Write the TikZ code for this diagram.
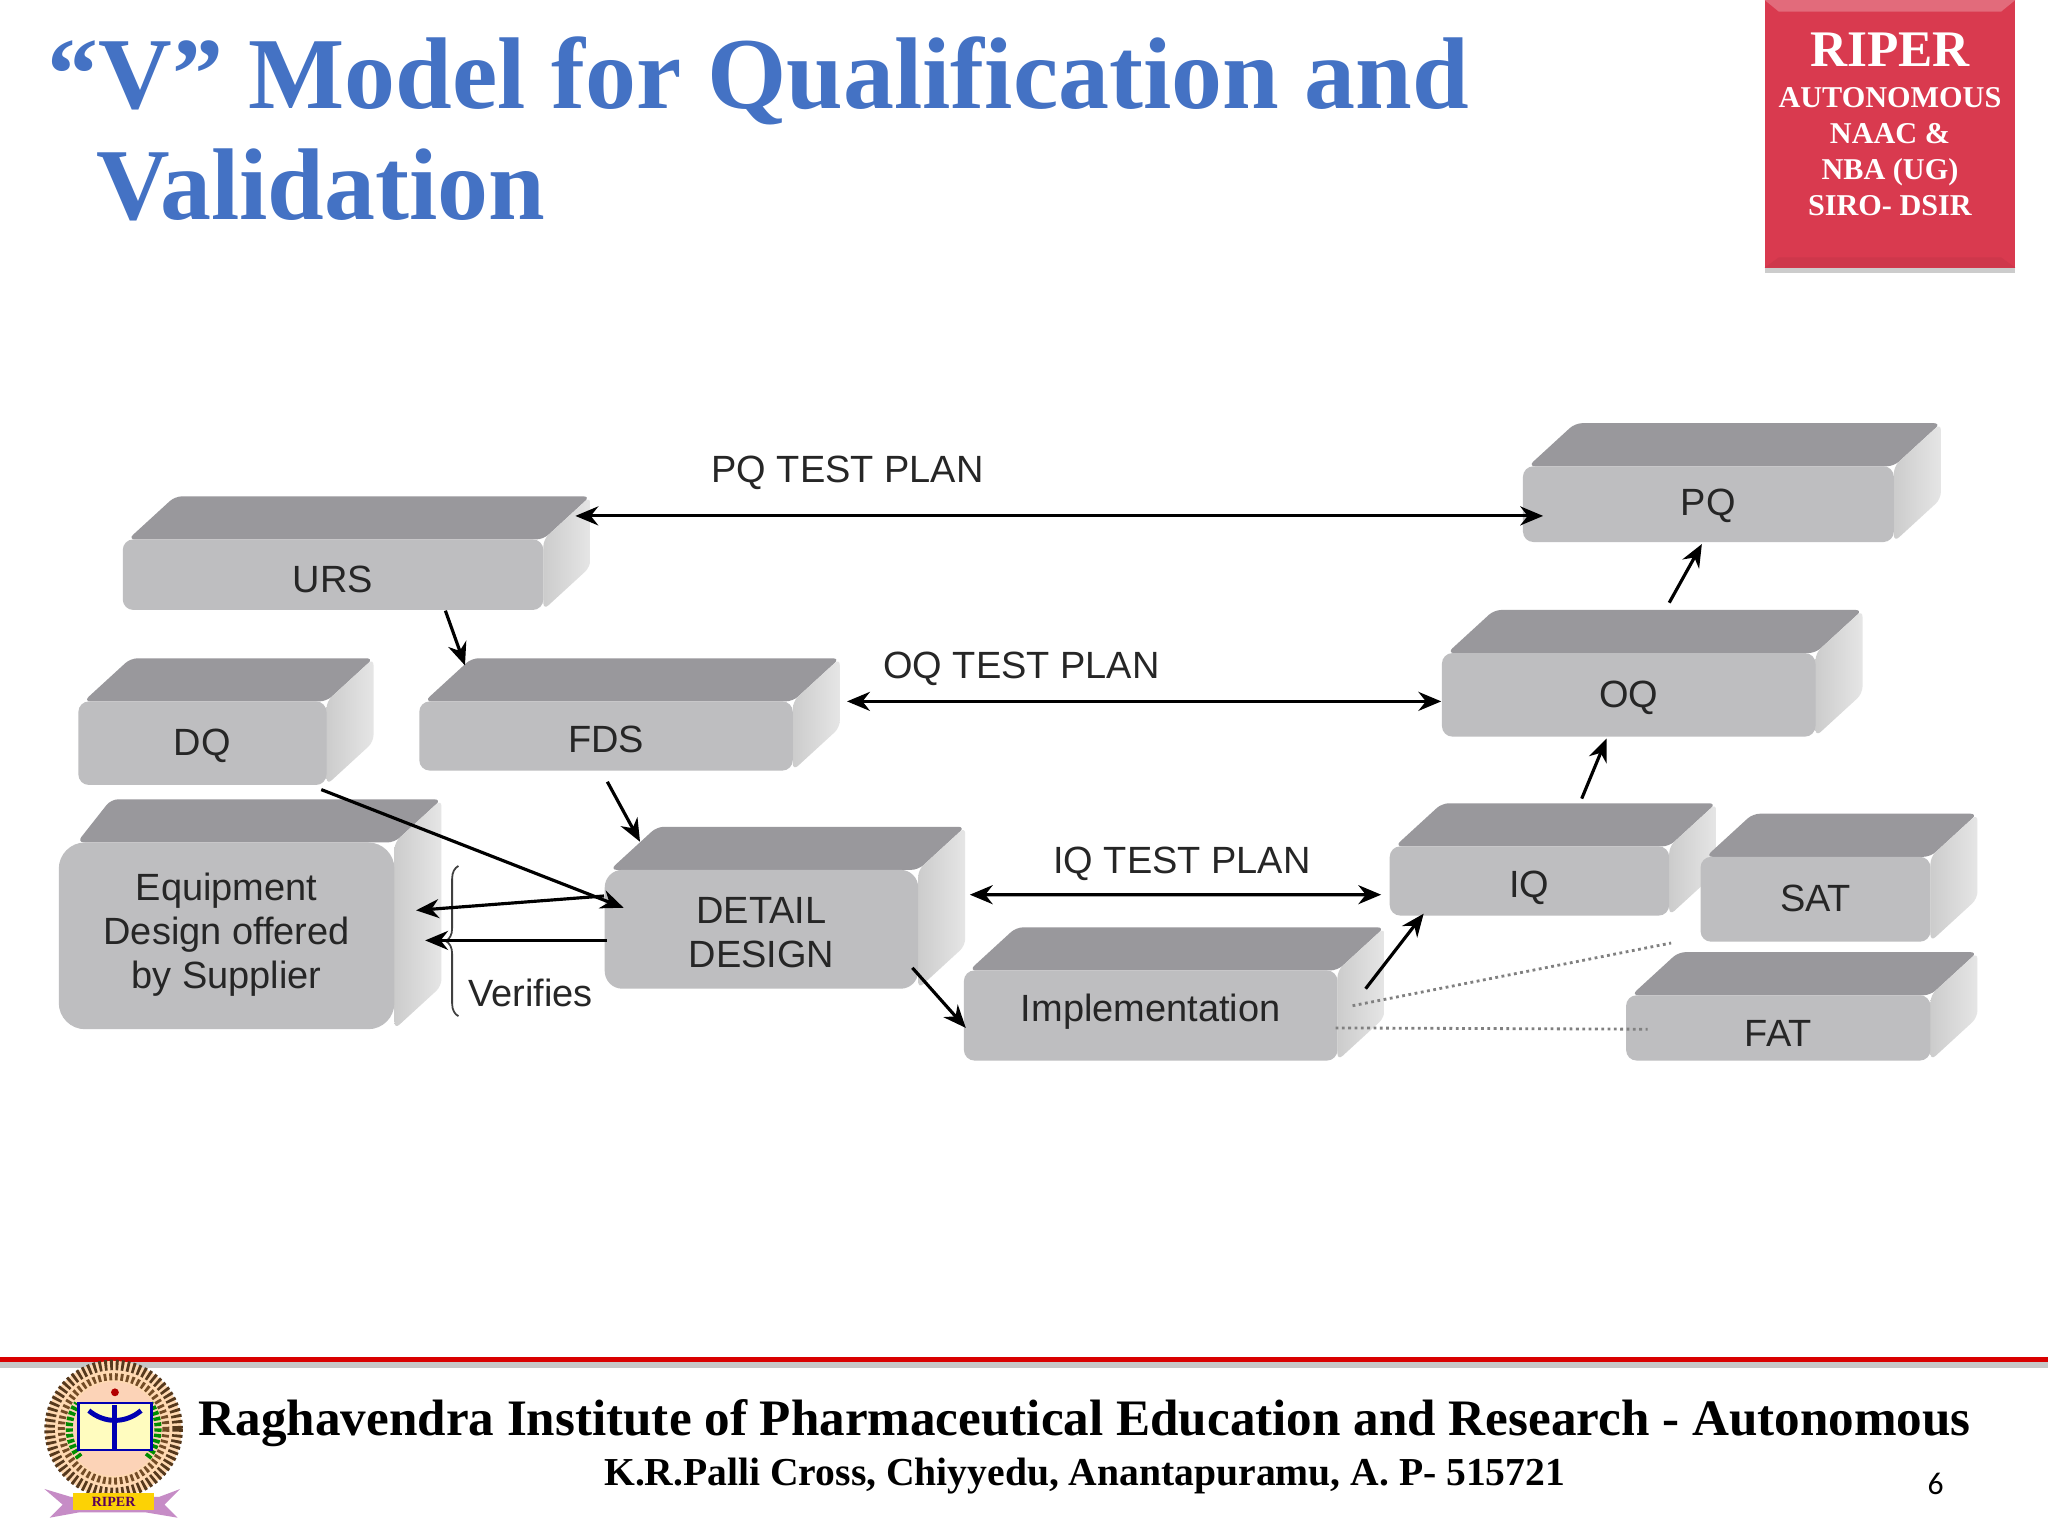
\documentclass[tikz,border=0pt]{standalone}
\usepackage{fontspec}
\usepackage{xcolor}
\usepackage{tikz}
\usetikzlibrary{arrows.meta,decorations.pathreplacing}
\setmainfont{Liberation Serif}
\newfontfamily\diagfont{Liberation Sans}
\newfontfamily\pagefont{Carlito}
\definecolor{titleblue}{HTML}{4472C4}
\definecolor{badgered}{HTML}{D93A4F}
\definecolor{frontgrey}{HTML}{BEBEC0}
\definecolor{topgrey}{HTML}{99989C}
\def\pxu{0.01306cm}
\def\slabinset{4}
\tikzset{
slabtop/.style={fill=topgrey,rounded corners=2pt},
slabside/.style={left color=black!20,right color=black!10,rounded corners=2pt},
slabfront/.style={fill=frontgrey,rounded corners=3pt,inner sep=0pt,align=center,text=black!85,font=\diagfont\fontsize{10.8}{12.6}\selectfont},
planlabel/.style={inner sep=0pt,text=black!85,font=\diagfont\fontsize{10.8}{13}\selectfont},
link/.style={-{Stealth[length=6.5pt,width=5.4pt]},line width=0.9pt,black},
twoway/.style={{Stealth[length=6.5pt,width=5.4pt]}-{Stealth[length=6.5pt,width=5.4pt]},line width=0.9pt,black},
dotlink/.style={densely dotted,line width=0.8pt,black!50},
titleline/.style={anchor=base west,inner sep=0pt,text=titleblue,font=\bfseries\fontsize{29}{35}\selectfont},
footline/.style={anchor=base,inner sep=0pt,font=\bfseries},
}
\newcommand{\slab}[7][]{
\fill[slabtop](#3+\slabinset,#5)--(#3+40,#5-33)--(#4+36,#5-33)--(#4,#5)--cycle;
\shade[slabside](#4,#5)--(#4+36,#5-33)--(#4+36,#6-33)--(#4,#6)--cycle;
\node[slabfront,#1,minimum width={(#4-#3)*\pxu},minimum height={(#6-#5)*\pxu}](#2)at({(#3+#4)/2},{(#5+#6)/2}){#7};
}
\begin{document}
\begin{tikzpicture}[x=\pxu,y=-\pxu]
\useasboundingbox(0,0)rectangle(1568,1176);
\fill[white](0,0)rectangle(1568,1176);
\node[titleline](title1)at(36,83){“V” Model for Qualification and};
\node[titleline](title2)at(73,168){Validation};
\fill[black!20](1351,4)rectangle(1543,209);
\fill[badgered](1351,0)rectangle(1543,205);
\fill[badgered!75!white](1351,0)--(1543,0)--(1532,9)--(1362,9)--cycle;
\fill[badgered!95!black](1351,205)--(1543,205)--(1532,197)--(1362,197)--cycle;
\node[inner sep=0pt,text=white,align=center,font=\bfseries\fontsize{8.6}{10.2}\selectfont](badge)at(1447,95)
{{\fontsize{14.6}{17}\selectfont RIPER}\\[1.5pt]AUTONOMOUS\\NAAC \&\\NBA (UG)\\SIRO- DSIR};
\slab[text height=10.2pt]{urs}{94}{416}{413}{467}{URS}
\slab[text height=8.5pt]{pq}{1166}{1450}{357}{415}{PQ}
\slab[text height=9.3pt]{oq}{1104}{1390}{500}{564}{OQ}
\slab[text height=9.3pt]{dq}{60}{250}{537}{601}{DQ}
\slab[text height=9.6pt]{fds}{321}{607}{537}{590}{FDS}
\def\slabinset{14}
\slab[rounded corners=7.5pt]{eq}{45}{302}{645}{788}{Equipment\\Design offered\\by Supplier\rule[-3pt]{0pt}{1pt}}
\def\slabinset{4}
\slab[rounded corners=5pt]{detail}{463}{703}{666}{757}{\rule{0pt}{9.5pt}DETAIL\\DESIGN}
\slab[text height=11.5pt]{iq}{1064}{1278}{648}{701}{IQ}
\slab[text depth=0.7pt]{sat}{1302}{1478}{656}{721}{SAT}
\slab[text height=10.8pt]{fat}{1245}{1478}{762}{812}{FAT}
\slab[text depth=4.5pt]{impl}{738}{1024}{743}{812}{Implementation}
\node[planlabel](pqplan)at(649,362){PQ TEST PLAN};
\node[planlabel](oqplan)at(782,512){OQ TEST PLAN};
\node[planlabel](iqplan)at(905,661){IQ TEST PLAN};
\node[planlabel](verifies)at(406,760){Verifies};
\coordinate(bracelow)at(351,778);
\coordinate(bracehigh)at(351,663);
\draw[decorate,decoration={brace,amplitude=3.6pt},line width=0.5pt,black!75](bracelow)--(bracehigh);
\draw[link]([shift={(86,0)}]urs.south)--([shift={(-108,-27)}]fds.north);
\draw[link]([shift={(1,8)}]fds.south)--([shift={(-93,-21)}]detail.north);
\draw[link]([shift={(91,3)}]dq.south)--([shift={(15,-16.5)}]detail.west);
\draw[link]([shift={(0,-25.5)}]detail.west)--([shift={(16,-19.5)}]eq.east);
\draw[link]([shift={(2,8.5)}]detail.west)--([shift={(23,3.5)}]eq.east);
\draw[link]([shift={(-5,29.5)}]detail.east)--([shift={(2,9.5)}]impl.west);
\draw[link]([shift={(21,-20.5)}]impl.east)--([shift={(-81,-2)}]iq.south);
\draw[link]([shift={(40,-36)}]iq.north)--([shift={(-17,1)}]oq.south);
\draw[link]([shift={(31,-38)}]oq.north)--([shift={(-5,1)}]pq.south);
\draw[twoway]([shift={(24,-45)}]urs.east)--([shift={(16,9)}]pq.west);
\draw[twoway]([shift={(41,-26.5)}]fds.east)--([shift={(0,5)}]oq.west);
\draw[twoway]([shift={(39,-26.5)}]detail.east)--([shift={(-6,10.5)}]iq.west);
\draw[dotlink]([shift={(11,-7.5)}]impl.east)--([shift={(-22,33.5)}]sat.west);
\draw[dotlink]([shift={(-2,9.5)}]impl.east)--([shift={(17,1)}]fat.west);
\fill[black!22](0,1042)rectangle(1568,1047);
\fill[red!85!black](0,1039)rectangle(1568,1043);
\node[footline,font=\bfseries\fontsize{14.55}{17}\selectfont](footone)at(830.5,1099){Raghavendra Institute of Pharmaceutical Education and Research - Autonomous};
\node[footline,font=\bfseries\fontsize{11.27}{14}\selectfont](foottwo)at(830.5,1137){K.R.Palli Cross, Chiyyedu, Anantapuramu, A. P- 515721};
\node[inner sep=0pt,font=\pagefont\fontsize{9}{11}\selectfont](pagenum)at(1482,1136){6};
\fill[orange!30!white](87,1094)circle[radius=52];
\draw[black!55!brown,line width=3pt,dash pattern=on 0.8pt off 0.8pt](87,1094)circle[radius=49];
\draw[black!40!brown,line width=2pt,dash pattern=on 0.8pt off 0.8pt](87,1094)circle[radius=40];
\fill[magenta!18!orange!28!white](87,1094)circle[radius=36];
\draw[green!55!black,line width=2pt,dash pattern=on 1pt off 0.6pt](87,1094)+(140:34)arc(140:215:34);
\draw[green!55!black,line width=2pt,dash pattern=on 1pt off 0.6pt](87,1094)+(40:34)arc(40:-35:34);
\draw[blue!70!black,line width=0.7pt,fill=yellow!25](60,1074)rectangle(116,1110);
\draw[blue!70!black,line width=1.4pt](88,1076)--(88,1110);
\draw[blue!70!black,line width=1.4pt](68,1080)..controls(80,1090)and(96,1090)..(108,1080);
\fill[red!70!black](88,1066)circle[radius=3];
\fill[violet!45!white](34,1140)--(54,1146)--(122,1146)--(138,1140)--(126,1152)--(136,1162)--(112,1158)--(60,1158)--(38,1162)--(48,1152)--cycle;
\fill[yellow!70!orange](56,1143)rectangle(118,1156);
\node[inner sep=0pt,text=violet!70!black,font=\bfseries\fontsize{4}{4}\selectfont](logoname)at(87,1150){RIPER};
\end{tikzpicture}
\end{document}
